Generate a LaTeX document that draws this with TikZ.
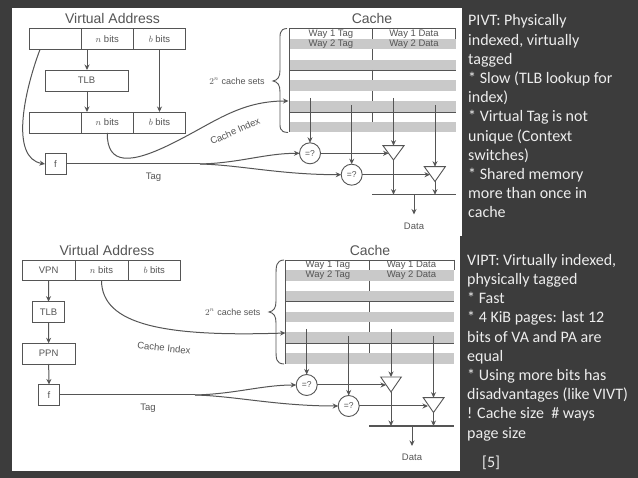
\documentclass[tikz,border=0pt]{standalone}
\usepackage{fontspec}
\setmainfont{Liberation Sans}
\newfontfamily\sidefont{Carlito}
\usetikzlibrary{arrows.meta}
\definecolor{slide}{HTML}{3C3C3C}
\definecolor{ink}{HTML}{555555}
\definecolor{band}{HTML}{C9C9C9}
\definecolor{sidetext}{HTML}{EDEDED}
\tikzset{
  cell/.style={draw=ink,line width=0.9pt,fill=white,inner sep=0pt,outer sep=0pt,text=ink,font=\fontsize{9.5}{10}\selectfont,anchor=north west},
  label/.style={text=ink,inner sep=0pt,font=\fontsize{9.5}{10}\selectfont},
  heading/.style={text=ink,inner sep=0pt,font=\fontsize{14}{16}\selectfont},
  cmp/.style={circle,draw=ink,line width=0.9pt,fill=white,minimum size=21pt,inner sep=0pt,outer sep=0pt,text=ink,font=\fontsize{8.5}{9}\selectfont},
  wire/.style={draw=ink,line width=1pt},
  arrow/.style={wire,-{Stealth[length=5.5pt,width=5pt]}},
  side/.style={text=sidetext,anchor=north west,align=left,inner sep=0pt,font=\sidefont\fontsize{16}{19.2}\selectfont},
  tri/.style={draw=ink,line width=0.9pt,fill=white,line join=miter},
  rule/.style={draw=ink,line width=0.9pt},
}
\begin{document}
\begin{tikzpicture}[x=1pt,y=-1pt]
\useasboundingbox (0,0) rectangle (638,478);
\fill[slide] (0,0) rectangle (638,478);
\fill[white] (12,8) rectangle (462,236);
\fill[white] (12,236) rectangle (460,471);

%% ---------- top diagram ----------
\node[heading] (vaA) at (112.5,18.5) {Virtual Address};
\node[heading] (caA) at (372,18.5) {Cache};
\node[cell,minimum width=51.7pt,minimum height=21pt] (a1) at (29.3,28.5) {};
\node[cell,minimum width=52.5pt,minimum height=21pt] (a2) at (81,28.5) {$n$ bits};
\node[cell,minimum width=52pt,minimum height=21pt] (a3) at (133.5,28.5) {$b$ bits};
\node[cell,minimum width=83pt,minimum height=21pt] (tlbA) at (45,70) {TLB};
\node[cell,minimum width=51.7pt,minimum height=21pt] (b1) at (29.3,112) {};
\node[cell,minimum width=52.5pt,minimum height=21pt] (b2) at (81,112) {$n$ bits};
\node[cell,minimum width=52pt,minimum height=21pt] (b3) at (133.5,112) {$b$ bits};
\node[cell,minimum width=21pt,minimum height=21pt] (fA) at (45,153.5) {f};
\coordinate (drop) at (87,49.5);
\coordinate (tag) at (40,49.5);
\draw[arrow] (drop) -- (drop |- tlbA.north);
\draw[arrow] (drop |- tlbA.south) -- (drop |- b2.north);
\draw[arrow] (a3.south) -- (b3.north);
\draw[arrow] (tag) .. controls (24,92) and (10,158) .. (fA.west);
\coordinate (splitA) at (200,164);
\draw[wire] (fA.east) -- (splitA);

% cache table
\foreach \y in {39,60,80.5,101.5,122} \fill[band] (289.3,\y) rectangle (455.7,\y+10.5);
\foreach \y/\h in {28.5/39,49.5/60,70/80.5,91/101.5,112/122} \draw[rule] (372.3,\y) -- (372.3,\h);
\draw[rule] (289.3,28.5) -- (455.7,28.5) (289.3,70) -- (455.7,70) (289.3,112) -- (455.7,112) (289.3,28.5) -- (289.3,132.5) (455.7,28.5) -- (455.7,39);
\node[label] (w1tA) at (331,33.8) {Way 1 Tag};
\node[label] (w2tA) at (331,44.2) {Way 2 Tag};
\node[label] (w1dA) at (414,33.8) {Way 1 Data};
\node[label] (w2dA) at (414,44.2) {Way 2 Data};
\draw[rule] (287,28.5) .. controls (279,29) and (280,34) .. (280,44) -- (280,70) .. controls (280,77) and (278,80) .. (273,81) .. controls (278,82) and (280,85) .. (280,92) -- (280,118) .. controls (280,128) and (279,132) .. (288,132.5);
\node[label,font=\fontsize{9}{10}\selectfont] (setsA) at (237,81) {$2^n$ cache sets};

\node[cmp] (c1A) at (310,153.3) {=?};
\node[cmp] (c2A) at (351.7,174.7) {=?};
\coordinate (t1aA) at (383,145.7); \coordinate (t1bA) at (404,145.7); \coordinate (t1cA) at (393.5,160);
\coordinate (t2aA) at (424.3,166.7); \coordinate (t2bA) at (445.3,166.7); \coordinate (t2cA) at (435,181.5);
\draw[tri] (t1aA) -- (t1bA) -- (t1cA) -- cycle;
\draw[tri] (t2aA) -- (t2bA) -- (t2cA) -- cycle;
\coordinate (busLA) at (372.3,194.7); \coordinate (busRA) at (456,194.7);
\draw[ink,line width=1.2pt] (busLA) -- (busRA);
\coordinate (s1A) at (310,98); \coordinate (s2A) at (351.7,105); \coordinate (s3A) at (393.5,98); \coordinate (s4A) at (435,105);
\coordinate (t1eA) at (388.6,153.3); \coordinate (t2eA) at (430,174.7);
\coordinate (busTapA) at (414,194.7); \coordinate (dataTipA) at (414,214.5);
\draw[arrow] (s1A) -- (c1A.north);
\draw[arrow] (s2A) -- (c2A.north);
\draw[arrow] (s3A) -- (s3A |- t1aA);
\draw[arrow] (s4A) -- (s4A |- t2aA);
\draw[arrow] (c1A.east) -- (t1eA);
\draw[arrow] (c2A.east) -- (t2eA);
\draw[arrow] (t1cA) -- (t1cA |- busLA);
\draw[arrow] (t2cA) -- (t2cA |- busLA);
\node[label] (dataA) at (414,226) {Data};
\draw[arrow] (busTapA) -- (dataTipA);
\draw[arrow] (splitA) .. controls (240,163) and (265,153.3) .. (c1A.west);
\draw[arrow] (splitA) .. controls (240,165) and (280,174.7) .. (c2A.west);
\coordinate (idxTipA) at (288.5,101);
\draw[arrow] (b2.south) .. controls (107,165) and (130,165) .. (175,142) .. controls (215,122) and (240,101) .. (idxTipA);
\node[label,rotate=24] (idxA) at (235,131) {Cache Index};
\node[label] (tagA) at (153.5,177.5) {Tag};

%% ---------- bottom diagram ----------
\node[heading] (vaB) at (107,250) {Virtual Address};
\node[heading] (caB) at (370,250) {Cache};
\node[cell,minimum width=52.7pt,minimum height=20.7pt] (p1) at (22.3,260) {VPN};
\node[cell,minimum width=53pt,minimum height=20.7pt] (p2) at (75,260) {$n$ bits};
\node[cell,minimum width=52.5pt,minimum height=20.7pt] (p3) at (128,260) {$b$ bits};
\node[cell,minimum width=32pt,minimum height=20.7pt] (tlbB) at (32.5,301.7) {TLB};
\node[cell,minimum width=52.7pt,minimum height=20.7pt] (ppn) at (22.3,343.3) {PPN};
\node[cell,minimum width=21pt,minimum height=21pt] (fB) at (38.5,384.5) {f};
\draw[arrow] (p1.south) -- (tlbB.north);
\draw[arrow] (tlbB.south) -- (ppn.north);
\draw[arrow] (ppn.south) -- (fB.north);
\coordinate (splitB) at (195,395);
\draw[wire] (fB.east) -- (splitB);

\foreach \y in {270.5,291,312,332.5,353.5} \fill[band] (285.7,\y) rectangle (454,\y+10.5);
\foreach \y/\h in {260/270.5,281/291,301.5/312,322.5/332.5,343.5/353.5} \draw[rule] (369.3,\y) -- (369.3,\h);
\draw[rule] (285.7,260) -- (454,260) (285.7,301.5) -- (454,301.5) (285.7,343.5) -- (454,343.5) (285.7,260) -- (285.7,364) (454,260) -- (454,270.5);
\node[label] (w1tB) at (328,265.3) {Way 1 Tag};
\node[label] (w2tB) at (328,275.5) {Way 2 Tag};
\node[label] (w1dB) at (411.5,265.3) {Way 1 Data};
\node[label] (w2dB) at (411.5,275.5) {Way 2 Data};
\draw[rule] (284,260) .. controls (276,260.5) and (276,266) .. (276,276) -- (276,301) .. controls (276,308) and (274,311) .. (269,312) .. controls (274,313) and (276,316) .. (276,323) -- (276,349) .. controls (276,359) and (276,363.5) .. (284,364);
\node[label,font=\fontsize{9}{10}\selectfont] (setsB) at (232.7,312.3) {$2^n$ cache sets};

\node[cmp] (c1B) at (306.7,385) {=?};
\node[cmp] (c2B) at (348.7,406) {=?};
\coordinate (t1aB) at (380.7,377); \coordinate (t1bB) at (401.3,377); \coordinate (t1cB) at (391,392);
\coordinate (t2aB) at (423.3,397.7); \coordinate (t2bB) at (444,397.7); \coordinate (t2cB) at (433.5,412.5);
\draw[tri] (t1aB) -- (t1bB) -- (t1cB) -- cycle;
\draw[tri] (t2aB) -- (t2bB) -- (t2cB) -- cycle;
\coordinate (busLB) at (369.3,426); \coordinate (busRB) at (454,426);
\draw[ink,line width=1.2pt] (busLB) -- (busRB);
\coordinate (s1B) at (306.7,329); \coordinate (s2B) at (348.7,336); \coordinate (s3B) at (391,329); \coordinate (s4B) at (433.5,336);
\coordinate (t1eB) at (386,385); \coordinate (t2eB) at (428,406);
\coordinate (busTapB) at (412,426); \coordinate (dataTipB) at (412,446);
\draw[arrow] (s1B) -- (c1B.north);
\draw[arrow] (s2B) -- (c2B.north);
\draw[arrow] (s3B) -- (s3B |- t1aB);
\draw[arrow] (s4B) -- (s4B |- t2aB);
\draw[arrow] (c1B.east) -- (t1eB);
\draw[arrow] (c2B.east) -- (t2eB);
\draw[arrow] (t1cB) -- (t1cB |- busLB);
\draw[arrow] (t2cB) -- (t2cB |- busLB);
\node[label] (dataB) at (412,457) {Data};
\draw[arrow] (busTapB) -- (dataTipB);
\draw[arrow] (splitB) .. controls (235,394) and (262,385) .. (c1B.west);
\draw[arrow] (splitB) .. controls (235,396) and (277,406) .. (c2B.west);
\coordinate (idxTipB) at (285.5,333);
\draw[arrow] (p2.south) .. controls (102,325) and (165,337) .. (idxTipB);
\node[label,rotate=-6] (idxB) at (164,348) {Cache Index};
\node[label] (tagB) at (148,408.7) {Tag};

%% ---------- side text ----------
\node[side] (notesA) at (468,14.5) {PIVT: Physically\\indexed, virtually\\tagged\\* Slow (TLB lookup for\\index)\\* Virtual Tag is not\\unique (Context\\switches)\\* Shared memory\\more than once in\\cache};
\node[side] (notesB) at (467,254) {VIPT: Virtually indexed,\\physically tagged\\* Fast\\* 4 KiB pages: last 12\\bits of VA and PA are\\equal\\* Using more bits has\\disadvantages (like VIVT)\\! Cache size\ \ \# ways\\page size};
\node[side] (refB) at (482,456) {[5]};
\end{tikzpicture}
\end{document}
